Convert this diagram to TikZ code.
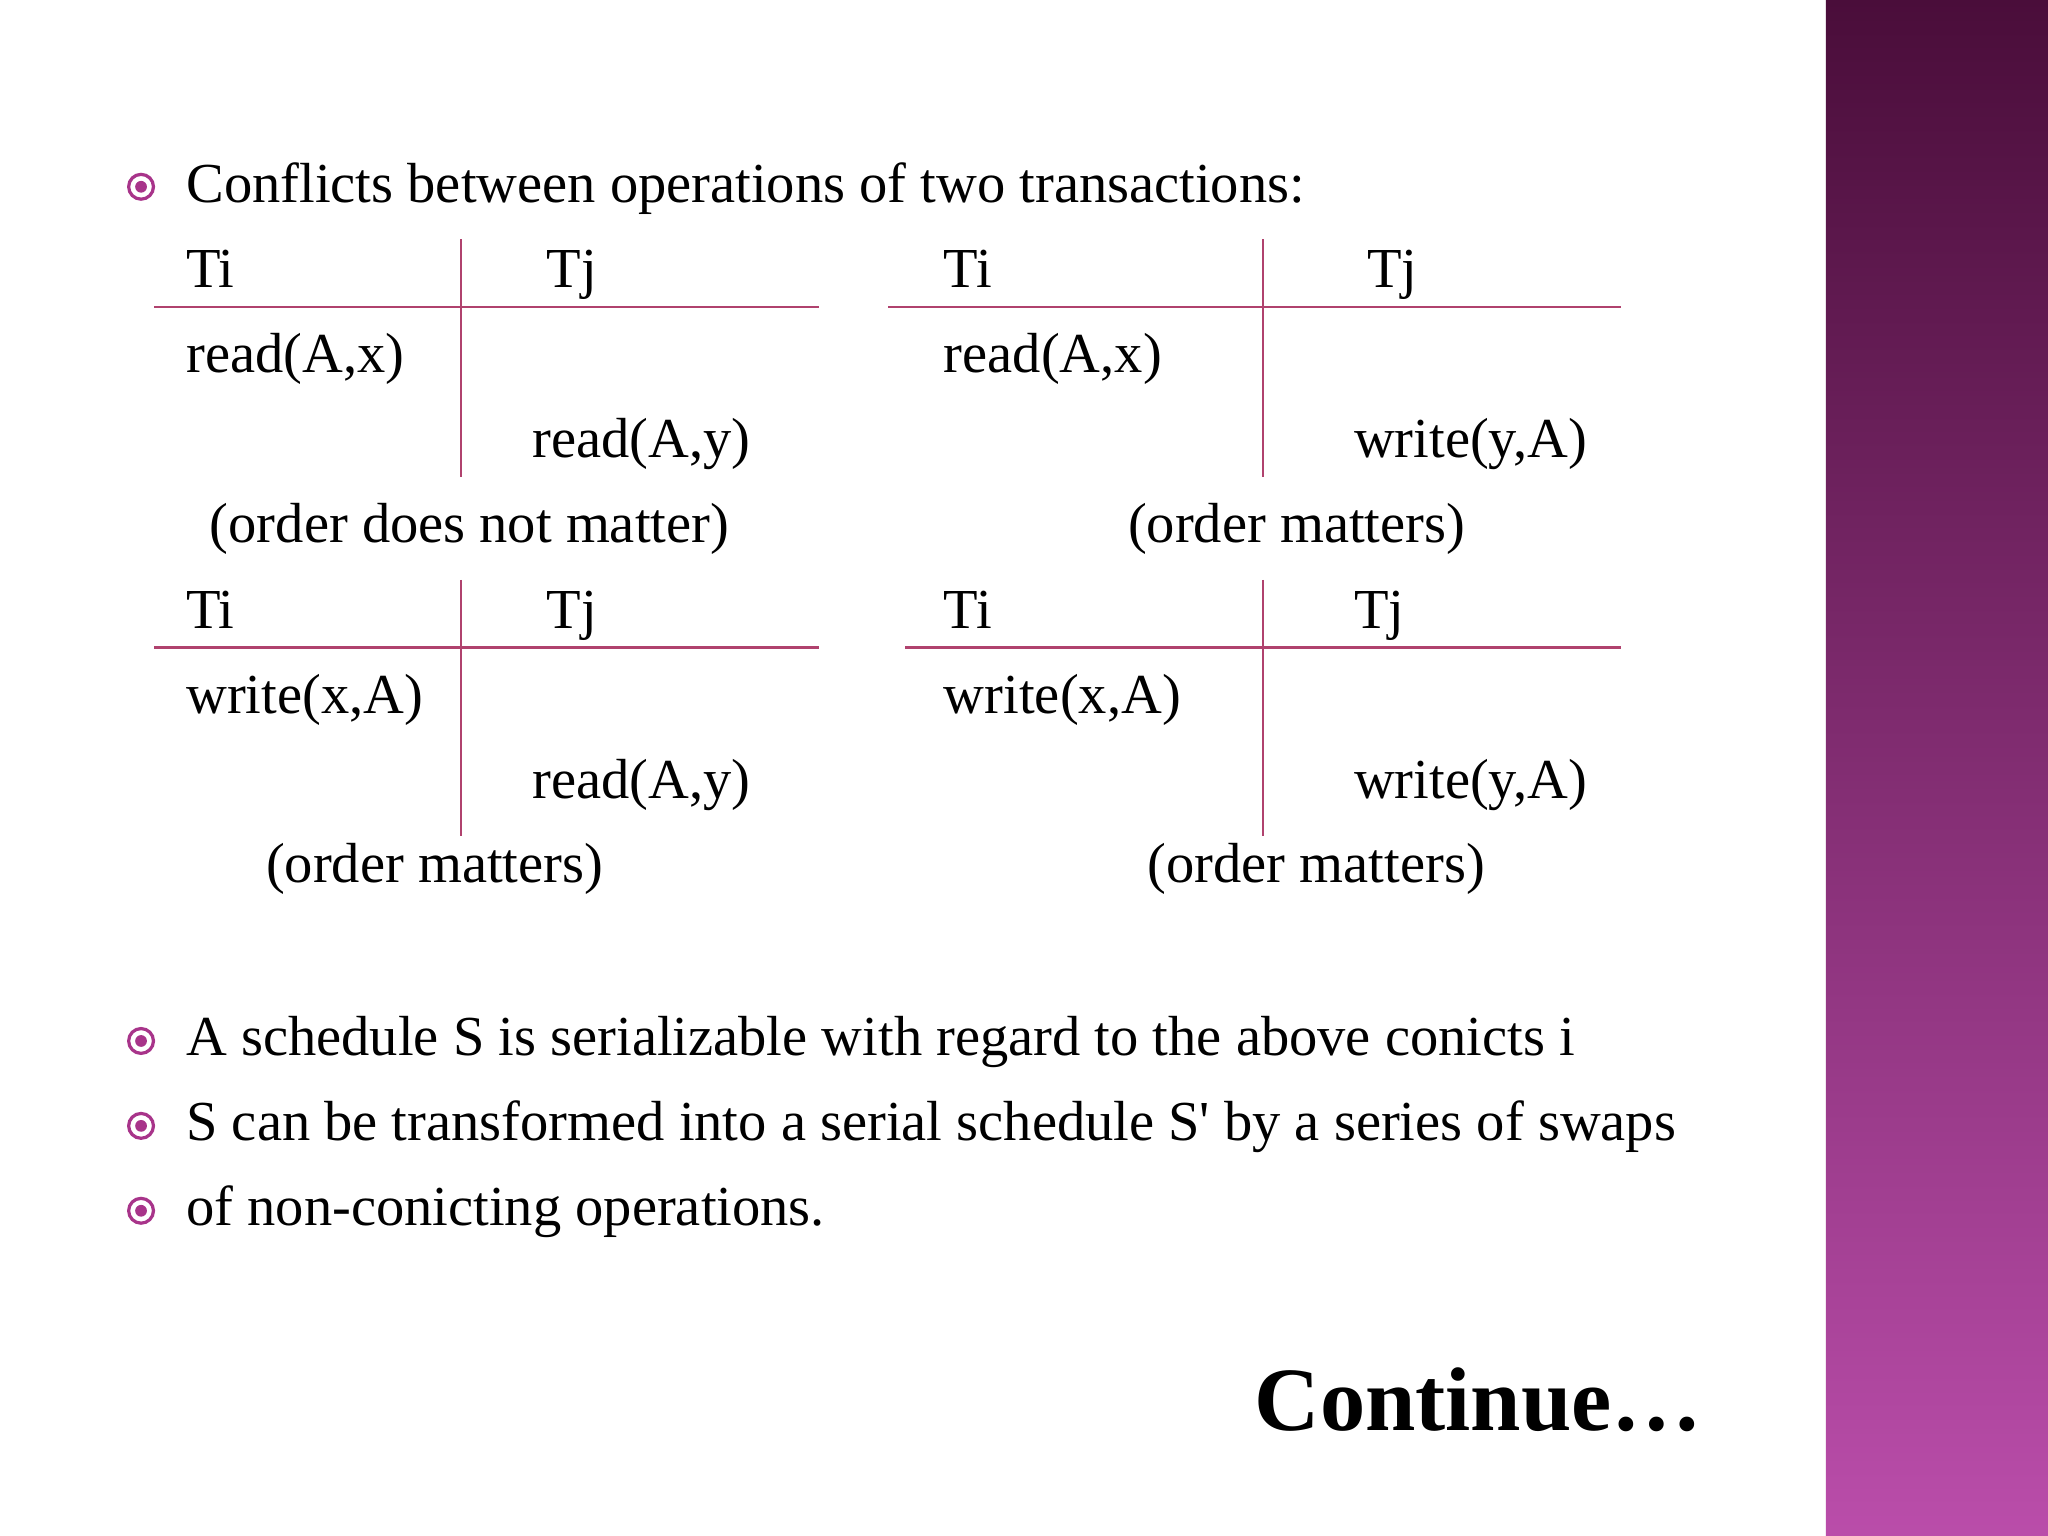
\documentclass[tikz,border=0pt]{standalone}
\usepackage{fontspec}
\setmainfont{Liberation Serif}
\begin{document}
\begin{tikzpicture}[x=0.01cm,y=-0.01cm,
  txt/.style={anchor=base west,inner sep=0pt,font=\fontsize{12.3}{14}\selectfont},
  rule/.style={draw=lc,line width=0.6pt},
  bul/.style={circle,draw=bc,line width=0.7pt,minimum size=0.19cm,inner sep=0pt}]
\definecolor{lc}{HTML}{B0426E}
\definecolor{bc}{HTML}{A8348A}
\definecolor{topc}{HTML}{4A0D3A}
\definecolor{botc}{HTML}{BA4DAA}
\useasboundingbox (0,0) rectangle (1568,1176);
\fill[white] (0,0) rectangle (1568,1176);
\shade[top color=topc,bottom color=botc] (1398,0) rectangle (1568,1176);
% bullets
\foreach \n/\y in {b1/143,b2/797,b3/862,b4/927}{
  \node[bul] (\n) at (108,\y) {};
  \fill[bc] (\n.center) circle (0.045cm);}
\node[txt] (h) at (142,155) {Conflicts between operations of two transactions:};
% tables
\draw[rule] (118,235) -- (627,235); \draw[rule] (353,183) -- (353,365);
\draw[rule] (680,235) -- (1241,235); \draw[rule] (967,183) -- (967,365);
\draw[rule] (118,496) -- (627,496); \draw[rule] (353,444) -- (353,640);
\draw[rule] (693,496) -- (1241,496); \draw[rule] (967,444) -- (967,640);
\node[txt] (t1i) at (142,220) {Ti};
\node[txt] (t1j) at (418,220) {Tj};
\node[txt] (t1a) at (142,285) {read(A,x)};
\node[txt] (t1b) at (407,350) {read(A,y)};
\node[txt] (t1c) at (160,415) {(order does not matter)};
\node[txt] (t2i) at (722,220) {Ti};
\node[txt] (t2j) at (1046,220) {Tj};
\node[txt] (t2a) at (722,285) {read(A,x)};
\node[txt] (t2b) at (1036,350) {write(y,A)};
\node[txt] (t2c) at (863,415) {(order matters)};
\node[txt] (t3i) at (142,481) {Ti};
\node[txt] (t3j) at (418,481) {Tj};
\node[txt] (t3a) at (142,546) {write(x,A)};
\node[txt] (t3b) at (407,611) {read(A,y)};
\node[txt] (t3c) at (203,676) {(order matters)};
\node[txt] (t4i) at (722,481) {Ti};
\node[txt] (t4j) at (1036,481) {Tj};
\node[txt] (t4a) at (722,546) {write(x,A)};
\node[txt] (t4b) at (1036,611) {write(y,A)};
\node[txt] (t4c) at (878,676) {(order matters)};
\node[txt] (p1) at (142,808) {A schedule S is serializable with regard to the above conicts i};
\node[txt] (p2) at (142,873) {S can be transformed into a serial schedule S\textquotesingle{} by a series of swaps};
\node[txt] (p3) at (142,938) {of non-conicting operations.};
\node[anchor=base west,inner sep=0pt,font=\fontsize{19.7}{23}\selectfont\bfseries] (c) at (960,1095) {Continue\ldots};
\end{tikzpicture}
\end{document}
